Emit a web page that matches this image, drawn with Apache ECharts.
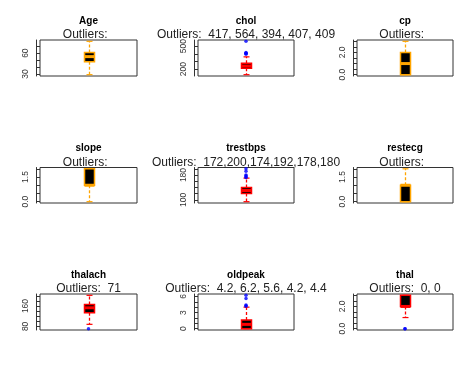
<!DOCTYPE html>
<html><head><meta charset="utf-8">
<script src="https://cdn.jsdelivr.net/npm/echarts@6/dist/echarts.min.js"></script>
<style>html,body{margin:0;padding:0;background:#fff}#c{width:474px;height:381px}</style>
</head><body><div id="c"></div>
<script>
const panelNames = ["Age", "chol", "cp", "slope", "trestbps", "restecg", "thalach", "oldpeak", "thal"];
const whiskerLow  = [29, 126, 0, 0, 94, 0, 88, 0, 1];
const quartile1   = [47.5, 211, 0, 1, 120, 0, 133.5, 0, 2];
const medians     = [55, 240, 1, 1, 130, 1, 153, 0.8, 2];
const quartile3   = [61, 274.5, 2, 2, 140, 1, 166, 1.6, 3];
const whiskerHigh = [77, 360, 3, 2, 170, 2, 202, 4.0, 3];
const outlierValues = [
  [], [417, 564, 394, 407, 409], [],
  [], [172, 200, 174, 192, 178, 180], [],
  [71], [4.2, 6.2, 5.6, 4.2, 4.4], [0, 0]
];
const outlierLabels = [
  "Outliers:  ", "Outliers:  417, 564, 394, 407, 409", "Outliers:  ",
  "Outliers:  ", "Outliers:  172,200,174,192,178,180", "Outliers:  ",
  "Outliers:  71", "Outliers:  4.2, 6.2, 5.6, 4.2, 4.4", "Outliers:  0, 0"
];
const tickValues = [
  [30, 40, 50, 60, 70], [200, 300, 400, 500], [0, 0.5, 1, 1.5, 2, 2.5, 3],
  [0, 0.5, 1, 1.5, 2], [100, 120, 140, 160, 180, 200], [0, 0.5, 1, 1.5, 2],
  [80, 100, 120, 140, 160, 180, 200], [0, 1, 2, 3, 4, 5, 6], [0, 0.5, 1, 1.5, 2, 2.5, 3]
];
const tickLabels = [
  ["30", "60"], ["200", "500"], ["0.0", "2.0"],
  ["0.0", "1.5"], ["100", "180"], ["0.0", "1.5"],
  ["80", "160"], ["0", "3", "6"], ["0.0", "2.0"]
];

const colLefts = [40, 198, 357];
const colWidths = [97, 96, 96];
const rowTops = [40, 167.5, 294];
const rowHeights = [36, 35.5, 36];
const FONT = '"Liberation Sans", Arial, sans-serif';

const grids = [], xAxes = [], yAxes = [], series = [], graphics = [];

function makeRender(color) {
  return function (params, api) {
    const x = api.value(0);
    const lo = api.coord([x, api.value(1)]);
    const a = api.coord([x, api.value(2)]);
    const m = api.coord([x, api.value(3)]);
    const b = api.coord([x, api.value(4)]);
    const hi = api.coord([x, api.value(5)]);
    const cx = Math.round(lo[0]) + 0.5;
    const hw = 5, sw = 3;
    const dash = { stroke: color, lineWidth: 1.3, lineDash: [3, 2] };
    return {
      type: 'group',
      children: [
        { type: 'line', shape: { x1: cx, y1: b[1], x2: cx, y2: hi[1] }, style: dash },
        { type: 'line', shape: { x1: cx, y1: a[1], x2: cx, y2: lo[1] }, style: dash },
        { type: 'line', shape: { x1: cx - sw, y1: hi[1], x2: cx + sw, y2: hi[1] }, style: { stroke: color, lineWidth: 1.2 } },
        { type: 'line', shape: { x1: cx - sw, y1: lo[1], x2: cx + sw, y2: lo[1] }, style: { stroke: color, lineWidth: 1.2 } },
        { type: 'rect', shape: { x: cx - hw, y: b[1], width: 2 * hw, height: a[1] - b[1] }, style: { fill: '#000', stroke: color, lineWidth: 1.5 } },
        { type: 'line', shape: { x1: cx - hw, y1: m[1], x2: cx + hw, y2: m[1] }, style: { stroke: color, lineWidth: 3 } }
      ]
    };
  };
}

panelNames.forEach((name, i) => {
  const r = Math.floor(i / 3), c = i % 3;
  const outs = outlierValues[i];
  const all = [whiskerLow[i], whiskerHigh[i]].concat(outs);
  const lo = Math.min.apply(null, all), hi = Math.max.apply(null, all);
  const pad = (hi - lo) * 0.04;
  const color = outs.length ? '#ff0000' : '#ffa500';
  grids.push({ left: colLefts[c], top: rowTops[r], width: colWidths[c], height: rowHeights[r],
    show: true, borderColor: '#333', borderWidth: 1, backgroundColor: 'transparent' });
  xAxes.push({ type: 'category', gridIndex: i, data: [name], show: false, boundaryGap: true });
  const labs = tickLabels[i];
  yAxes.push({
    type: 'value', gridIndex: i, min: lo - pad, max: hi + pad, offset: 4,
    axisLine: { show: true, lineStyle: { color: '#333', width: 1 } },
    axisTick: { show: true, inside: true, length: 4, customValues: tickValues[i], lineStyle: { color: '#333', width: 1 } },
    axisLabel: { show: true, rotate: 90, margin: 6, fontSize: 8.5, color: '#333', fontFamily: FONT,
      customValues: labs.map(Number),
      formatter: v => { const f = labs.find(s => Math.abs(Number(s) - v) < 1e-9); return f !== undefined ? f : ''; } },
    splitLine: { show: false }
  });
  series.push({
    type: 'custom', xAxisIndex: i, yAxisIndex: i, renderItem: makeRender(color), silent: true,
    clip: false,
    encode: { x: 0, y: [1, 2, 3, 4, 5] },
    data: [[0, whiskerLow[i], quartile1[i], medians[i], quartile3[i], whiskerHigh[i]]]
  });
  if (outs.length) {
    series.push({
      type: 'scatter', xAxisIndex: i, yAxisIndex: i, symbol: 'circle', symbolSize: 3.5, silent: true,
      itemStyle: { color: '#0000ff' },
      data: outs.map(v => [0, v])
    });
  }
  const cxp = colLefts[c] + colWidths[c] / 2;
  graphics.push({ type: 'text', x: cxp, y: rowTops[r] - 19, silent: true,
    style: { text: name, fill: '#000', font: 'bold 10px ' + FONT, align: 'center', verticalAlign: 'middle' } });
  graphics.push({ type: 'text', x: cxp, y: rowTops[r] - 5.3, silent: true,
    style: { text: outlierLabels[i], fill: '#222', font: '12px ' + FONT, align: 'center', verticalAlign: 'middle' } });
});

const chart = echarts.init(document.getElementById('c'), null, { renderer: 'canvas' });
chart.setOption({
  animation: false,
  backgroundColor: '#fff',
  grid: grids, xAxis: xAxes, yAxis: yAxes, series: series, graphic: graphics
});
</script></body></html>
